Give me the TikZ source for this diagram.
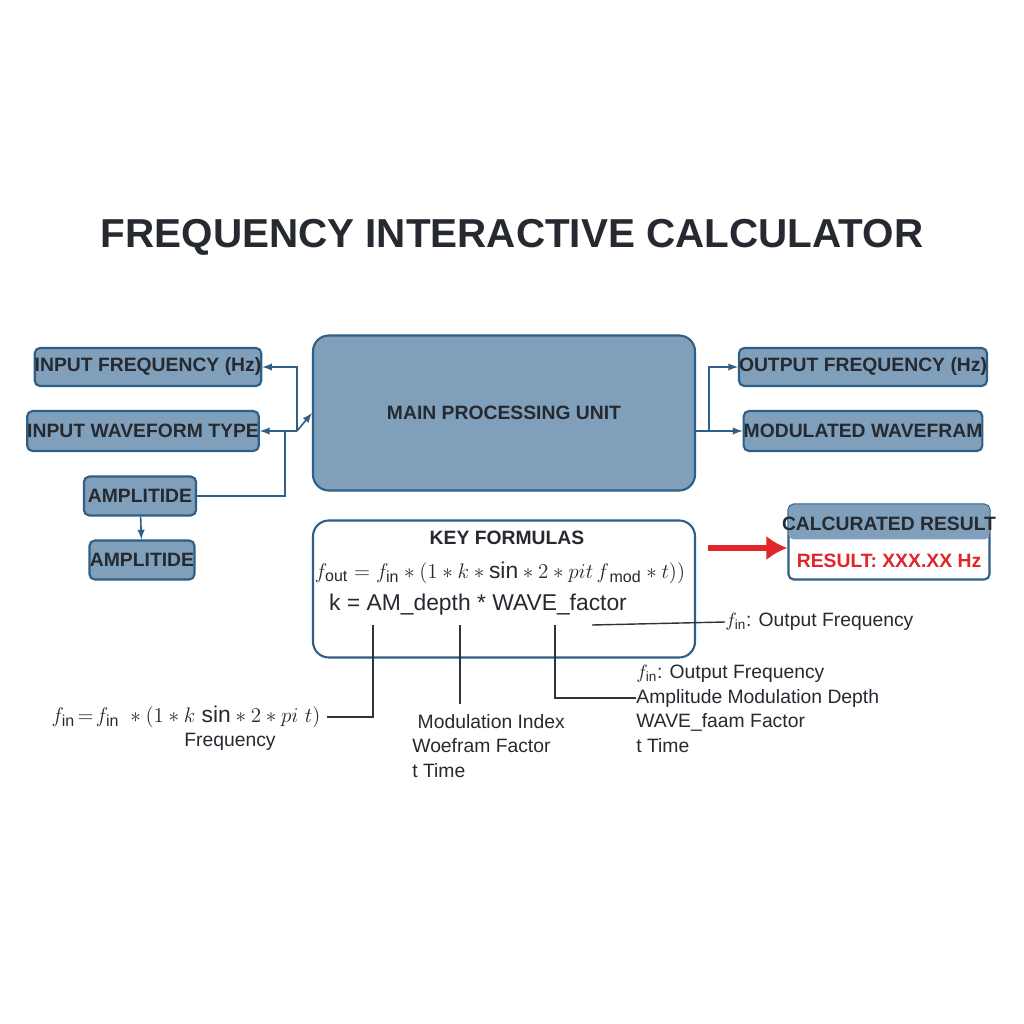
\documentclass[tikz,border=0pt]{standalone}
\usepackage{fontspec}
\setmainfont{Liberation Sans}
\usepackage{amsmath}
\usetikzlibrary{calc,arrows.meta}
\definecolor{boxfill}{HTML}{7F9FBA}
\definecolor{boxline}{HTML}{2F5E86}
\definecolor{txt}{HTML}{262A30}
\definecolor{resred}{HTML}{E0262A}
\tikzset{
  blockbox/.style={draw=boxline, fill=boxfill, line width=1.2pt, rounded corners=3pt,
    text=txt, font=\bfseries\fontsize{11}{13}\selectfont, inner sep=0pt},
  wire/.style={draw=boxline, line width=0.9pt, -latex},
  plainwire/.style={draw=boxline, line width=0.9pt},
  note/.style={draw=black!80, line width=0.8pt},
  notetext/.style={text=txt, font=\fontsize{11}{13}\selectfont, anchor=west, inner sep=0pt}
}
\begin{document}
\begin{tikzpicture}[x=0.02cm, y=-0.02cm]
  \useasboundingbox (0,0) rectangle (1024,1024);
  \fill[white] (0,0) rectangle (1024,1024);

  % Title
  \node (title) at (512,237) {\fontsize{23}{27}\selectfont\bfseries\color{txt} FREQUENCY INTERACTIVE CALCULATOR};

  % Main section: nodes
  \node[blockbox, rounded corners=9pt, minimum width=382*0.02cm, minimum height=155*0.02cm] (main) at (504,413) {MAIN PROCESSING UNIT};

  % Input section: nodes
  \node[blockbox, minimum width=208*0.02cm, minimum height=38*0.02cm] (inF) at (148,367) {INPUT FREQUENCY (Hz)};
  \node[blockbox, minimum width=214*0.02cm, minimum height=40*0.02cm] (inW) at (143,431) {INPUT WAVEFORM TYPE};
  \node[blockbox, minimum width=112*0.02cm, minimum height=39*0.02cm] (amp1) at (140,496) {AMPLITIDE};
  \node[blockbox, minimum width=105*0.02cm, minimum height=39*0.02cm] (amp2) at (142,560) {AMPLITIDE};

  % Output section: nodes
  \node[blockbox, minimum width=213*0.02cm, minimum height=38*0.02cm] (outF) at (863,367) {OUTPUT FREQUENCY (Hz)};
  \node[blockbox, minimum width=213*0.02cm, minimum height=40*0.02cm] (outW) at (863,431) {MODULATED WAVEFRAM};

  % Input section: connections
  \coordinate (inJ) at (297,431);
  \coordinate (ampJ) at (285,431);
  \draw[wire] (inJ) |- (inF);
  \draw[wire] (inJ) -- (inW);
  \draw[wire] (inJ) -- (main.west);
  \draw[plainwire] (amp1) -| (ampJ);
  \draw[wire] (amp1) -- (amp2);

  % Output section: connections
  \coordinate (outJ) at (709,431);
  \draw[plainwire] (main.east |- outJ) -- (outJ);
  \draw[wire] (outJ) |- (outF);
  \draw[wire] (outJ) -- (outW);

  % Formula section: nodes
  \node[draw=boxline, fill=white, line width=1.2pt, rounded corners=9pt, minimum width=382*0.02cm, minimum height=137*0.02cm] (keyF) at (504,589) {};
  \node[text=txt, font=\bfseries\fontsize{11}{13}\selectfont] (keyT) at (507,538) {KEY FORMULAS};
  \node[text=txt, font=\fontsize{13}{15}\selectfont] (eq1) at (500,573) {$f_{\text{out}} = f_{\text{in}} * (1 * k * \text{sin} * 2 * pit\, f_{\,\text{mod}} * t))$};
  \node[text=txt, font=\fontsize{13}{15}\selectfont] (eq2) at (478,605) {k = AM\_depth * WAVE\_factor};

  % Result section: nodes
  \node[draw=boxline, fill=white, line width=1.2pt, rounded corners=3pt, minimum width=201*0.02cm, minimum height=75*0.02cm] (res) at (889,542) {};
  \fill[boxfill, rounded corners=3pt] ($(res.north west)+(1,1)$) rectangle ($(res.north east)+(-1,36)$);
  \node[text=txt, font=\bfseries\fontsize{11}{13}\selectfont] (resT) at (889,524) {CALCURATED RESULT};
  \node[text=resred, font=\bfseries\fontsize{11}{13}\selectfont] (resV) at (889,561) {RESULT: XXX.XX Hz};
  \coordinate (redS) at (708,548);
  \draw[resred, line width=3.5pt, -{Latex[length=12pt,width=14pt]}] (redS) -- (res.west |- redS);

  % Formula section: notes
  \node[notetext] (n1) at (725,622) {$f_{\text{in}}$: Output Frequency};
  \node[notetext, align=left] (n2) at (636,709) {$f_{\text{in}}$: Output Frequency\\[1pt]Amplitude Modulation Depth\\[1pt]WAVE\_faam Factor\\[1pt]t Time};
  \node[notetext, align=left] (n3) at (412,746) {\ Modulation Index\\[1pt]Woefram Factor\\[1pt]t Time};
  \node[text=txt, font=\fontsize{13}{15}\selectfont] (n4) at (186,717) {$f_{\text{in}}\!=\!f_{\text{in}}\ * (1 * k\ \text{sin} * 2 * pi\ t)$};
  \node[notetext] (n5) at (184,742) {Frequency};

  % Formula section: note lines
  \coordinate (a1) at (373,625); \coordinate (a2) at (460,625);
  \coordinate (a3) at (555,625); \coordinate (a4) at (592,625);
  \draw[note] (a1) |- (n4.east |- 0,717);
  \draw[note] (a2) -- ++(0,79);
  \draw[note] (a3) |- (n2.west |- 0,698);
  \draw[note] (a4) -- (n1.west);
\end{tikzpicture}
\end{document}
